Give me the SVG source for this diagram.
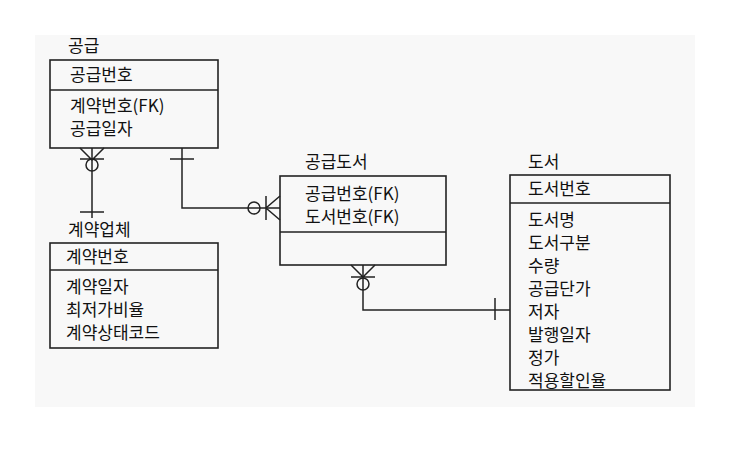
<svg xmlns="http://www.w3.org/2000/svg" width="745" height="455" viewBox="0 0 745 455">
<style>
.b{fill:none;stroke:#222;stroke-width:1.6}
.c{fill:none;stroke:#222;stroke-width:1.5}
text{font-family:"Noto Sans CJK KR","Noto Sans",sans-serif;font-size:17px;fill:#111}
</style>
<rect x="0" y="0" width="745" height="455" fill="#fff"/>
<rect x="35" y="35" width="660" height="372" fill="#f8f8f8"/>
<g id="gonggeup">
<text x="68" y="52">공급</text>
<rect class="b" x="50" y="60" width="168" height="88"/>
<line class="b" x1="50" y1="90" x2="218" y2="90"/>
<text x="70" y="81">공급번호</text>
<text x="70" y="112">계약번호(FK)</text>
<text x="70" y="135">공급일자</text>
</g>
<g id="gyeyak">
<text x="68" y="236">계약업체</text>
<rect class="b" x="50" y="243" width="168" height="105"/>
<line class="b" x1="50" y1="270" x2="218" y2="270"/>
<text x="66" y="263">계약번호</text>
<text x="66" y="293">계약일자</text>
<text x="66" y="316">최저가비율</text>
<text x="66" y="339">계약상태코드</text>
</g>
<g id="gonggeupdoseo">
<text x="305" y="168">공급도서</text>
<rect class="b" x="280" y="176" width="166" height="89"/>
<line class="b" x1="280" y1="232" x2="446" y2="232"/>
<text x="305" y="200">공급번호(FK)</text>
<text x="305" y="223">도서번호(FK)</text>
</g>
<g id="doseo">
<text x="528" y="168">도서</text>
<rect class="b" x="510" y="175" width="160" height="215"/>
<line class="b" x1="510" y1="203" x2="670" y2="203"/>
<text x="528" y="195">도서번호</text>
<text x="528" y="226">도서명</text>
<text x="528" y="249">도서구분</text>
<text x="528" y="272">수량</text>
<text x="528" y="295">공급단가</text>
<text x="528" y="318">저자</text>
<text x="528" y="341">발행일자</text>
<text x="528" y="364">정가</text>
<text x="528" y="387">적용할인율</text>
</g>
<g id="connectors">
<path class="c" d="M92 148 V218"/>
<path class="c" d="M80 148 L92 160 L104 148 M80 159 H104 M80 212 H104"/>
<circle class="c" cx="92" cy="165" r="6" fill="#f8f8f8"/>
<path class="c" d="M182 148 V208 H280"/>
<path class="c" d="M170 159 H194 M280 196 L266 208 L280 220 M266 196 V220"/>
<circle class="c" cx="254" cy="208" r="6" fill="#f8f8f8"/>
<path class="c" d="M363 265 V310 H510"/>
<path class="c" d="M351 265 L363 277 L375 265 M351 277 H375 M495 298 V320"/>
<circle class="c" cx="363" cy="284" r="6" fill="#f8f8f8"/>
</g>
</svg>
